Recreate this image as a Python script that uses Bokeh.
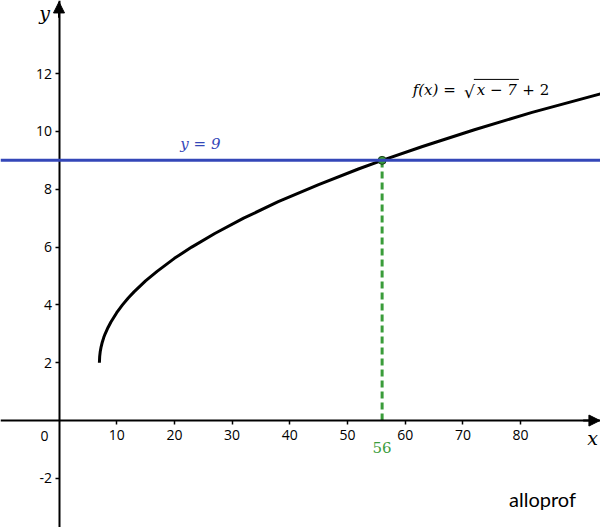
from bokeh.plotting import figure
from bokeh.models import (LinearAxis, FixedTicker, Label, Span, Arrow, NormalHead, Range1d)
from bokeh.embed import file_html
from bokeh.resources import INLINE

# ---- data ----
curve_x = [7, 7.05, 7.15, 7.3, 7.5, 7.75, 8, 8.5, 9, 10, 11, 12, 13, 15, 17, 20, 23,
           27, 32, 38, 45, 52, 56, 63, 72, 82, 94]
curve_y = [2.0, 2.22, 2.39, 2.55, 2.71, 2.87, 3.0, 3.22, 3.41, 3.73, 4.0, 4.24, 4.45,
           4.83, 5.16, 5.61, 6.0, 6.47, 7.0, 7.57, 8.16, 8.71, 9.0, 9.48, 10.06, 10.66, 11.31]
hline_y = 9
sol_x = [56]
sol_y = [9]
x_ticks = [10, 20, 30, 40, 50, 60, 70, 80]
y_ticks = [-2, 2, 4, 6, 8, 10, 12]
y_tick_labels = {-2: "-2"}

X0, X1 = -10.14, 93.85
Y0, Y1 = -3.70, 14.53

p = figure(width=600, height=527, x_range=Range1d(X0, X1), y_range=Range1d(Y0, Y1),
           output_backend="svg", toolbar_location=None,
           x_axis_type=None, y_axis_type=None, min_border=0)
p.outline_line_color = None
p.xgrid.visible = False
p.ygrid.visible = False
p.background_fill_color = "white"

tick_font = "Open Sans"

xa = LinearAxis(fixed_location=0, ticker=FixedTicker(ticks=x_ticks))
xa.axis_line_width = 2
xa.major_tick_in = 0
xa.major_tick_out = 4
xa.major_tick_line_width = 1.5
xa.minor_tick_out = 0
xa.minor_tick_in = 0
xa.major_label_standoff = 5
xa.major_label_text_font = tick_font
xa.major_label_text_font_size = "14px"
xa.major_label_text_color = "black"
p.add_layout(xa, "below")

ya = LinearAxis(fixed_location=0, ticker=FixedTicker(ticks=y_ticks))
ya.axis_line_width = 2
ya.major_tick_in = 0
ya.major_tick_out = 4
ya.major_tick_line_width = 1.5
ya.minor_tick_out = 0
ya.minor_tick_in = 0
ya.major_label_standoff = 3
ya.major_label_text_font = tick_font
ya.major_label_text_font_size = "14px"
ya.major_label_text_color = "black"
ya.major_label_overrides = y_tick_labels
p.add_layout(ya, "left")

# arrow heads
p.add_layout(Arrow(end=NormalHead(size=11, fill_color="black", line_color="black"),
                   x_start=X1 - 3, y_start=0, x_end=X1 - 0.1, y_end=0,
                   line_width=2, line_color="black"))
p.add_layout(Arrow(end=NormalHead(size=11, fill_color="black", line_color="black"),
                   x_start=0, y_start=Y1 - 0.6, x_end=0, y_end=Y1 - 0.05,
                   line_width=2, line_color="black"))

blue = "#3447b8"
green = "#3a9c3a"

p.add_layout(Span(location=hline_y, dimension="width", line_color=blue, line_width=3))

p.line(curve_x, curve_y, line_color="black", line_width=3)

p.segment(x0=sol_x, y0=[0], x1=sol_x, y1=sol_y, line_color=green, line_width=3,
          line_dash="7 4")
p.scatter(sol_x, sol_y, size=8, fill_color=green, line_color="#1a3a1a", line_width=1)

math_font = "DejaVu Serif"

def lab(x, y, text, color="black", size="16px", style="italic", font=math_font,
        align="left", baseline="middle"):
    p.add_layout(Label(x=x, y=y, text=text, text_color=color, text_font_size=size,
                       text_font_style=style, text_font=font, text_align=align,
                       text_baseline=baseline))

lab(-2.5, -0.55, "0", font=tick_font, style="normal", size="14px", align="center")
lab(92.5, -0.6, "x", size="19px", align="center")
lab(-2.5, 14.1, "y", size="19px", align="center")
lab(24.5, 9.55, "y = 9", color=blue, size="15px", align="center")
lab(56, -0.93, "56", color=green, size="15px", style="normal", align="center")

# f(x) = sqrt(x - 7) + 2
lab(61.3, 11.42, "f(x) =", size="15px")
lab(70.2, 11.38, "√", size="17px", style="normal")
lab(72.4, 11.42, "x − 7", size="15px")
lab(80.3, 11.42, "+ 2", size="15px", style="normal")
p.segment(x0=[71.9], y0=[11.8], x1=[79.7], y1=[11.8], line_color="black", line_width=1)

lab(83.8, -2.70, "alloprof", font="Lato", style="normal", size="20px", align="center")

open("out.html", "w").write(file_html(p, INLINE))
